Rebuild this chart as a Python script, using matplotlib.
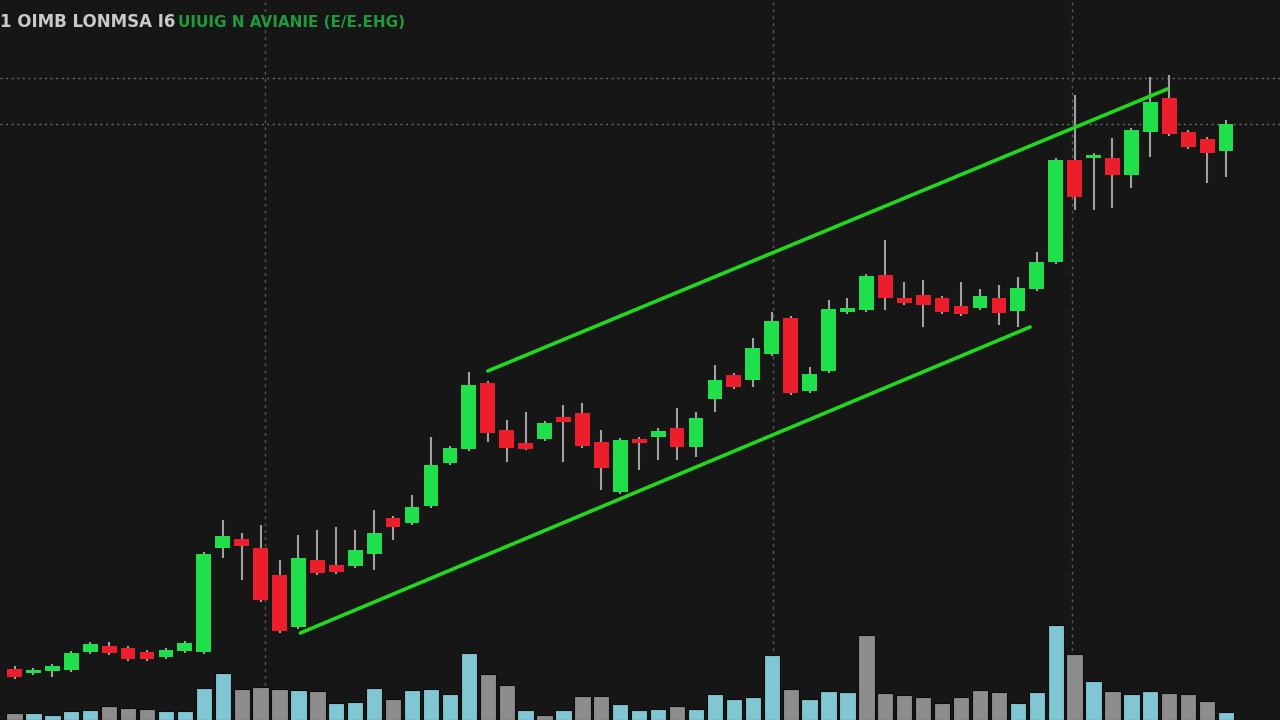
"""
Candlestick chart with rising channel and volume bars (dark theme).
"""

import numpy as np
import matplotlib
matplotlib.use("Agg")
import matplotlib.pyplot as plt

# ---------------------------------------------------------------------------
# Data
# ---------------------------------------------------------------------------
opens = [5.1, 4.7, 4.9, 5.0, 6.8, 7.4, 7.2, 6.8, 6.3, 6.9,
         6.8, 17.2, 18.1, 17.2, 14.5, 9.3, 16.0, 15.5, 15.4, 16.6,
         20.2, 19.7, 21.4, 25.7, 27.1, 33.7, 29.0, 27.7, 28.1, 30.3,
         30.7, 27.8, 22.8, 28.1, 28.3, 29.2, 27.3, 32.1, 34.5, 34.0,
         36.6, 40.2, 32.9, 34.9, 40.8, 41.0, 44.5, 42.2, 42.5, 42.2,
         41.4, 41.2, 42.2, 40.9, 43.1, 45.8, 56.0, 56.2, 56.2, 54.5,
         58.8, 62.2, 58.8, 58.1, 56.9]
highs = [5.4, 5.2, 5.6, 6.9, 7.8, 7.8, 7.4, 7.0, 7.2, 7.9,
         16.8, 20.0, 18.7, 19.5, 16.0, 18.5, 19.0, 19.3, 19.0, 21.0,
         20.4, 22.5, 28.3, 27.4, 34.8, 33.9, 30.0, 30.8, 29.9, 31.5,
         31.7, 29.0, 28.2, 28.3, 29.2, 31.2, 30.8, 35.5, 34.7, 38.2,
         40.8, 40.4, 35.3, 42.0, 42.2, 44.6, 48.0, 43.8, 44.0, 42.4,
         43.8, 43.1, 43.5, 44.3, 46.8, 56.2, 62.5, 56.7, 58.2, 59.2,
         64.3, 64.5, 59.0, 58.3, 60.0]
lows = [4.1, 4.5, 4.3, 4.8, 6.6, 6.5, 5.9, 5.9, 6.1, 6.7,
        6.6, 16.2, 14.0, 11.8, 8.7, 9.1, 14.5, 14.6, 15.2, 15.0,
        18.0, 19.5, 21.2, 25.5, 26.9, 27.8, 25.8, 27.0, 27.9, 25.8,
        27.2, 23.0, 22.6, 25.0, 26.0, 26.0, 26.3, 30.8, 33.1, 33.3,
        36.4, 32.5, 32.7, 34.7, 40.6, 40.8, 41.0, 41.5, 39.3, 40.6,
        40.4, 41.0, 39.5, 39.3, 42.9, 45.6, 51.0, 51.0, 51.2, 53.2,
        56.3, 58.4, 57.1, 53.7, 54.3]
closes = [4.3, 5.0, 5.4, 6.7, 7.6, 6.7, 6.1, 6.1, 7.0, 7.7,
          16.6, 18.4, 17.4, 12.0, 8.9, 16.2, 14.7, 14.8, 17.0, 18.7,
          19.3, 21.3, 25.5, 27.2, 33.5, 28.7, 27.2, 27.1, 29.7, 29.8,
          27.4, 25.2, 28.0, 27.7, 28.9, 27.3, 30.2, 34.0, 33.3, 37.2,
          39.9, 32.7, 34.6, 41.1, 41.2, 44.4, 42.2, 41.7, 41.5, 40.8,
          40.6, 42.4, 40.7, 43.2, 45.8, 56.0, 52.3, 56.5, 54.5, 59.0,
          61.8, 58.6, 57.3, 56.7, 59.6]

volumes = [70, 70, 50, 90, 100, 140, 120, 110, 90, 90,
           320, 470, 310, 330, 310, 300, 290, 170, 180, 320,
           210, 300, 310, 260, 670, 460, 350, 100, 50, 100,
           240, 240, 160, 100, 110, 140, 110, 260, 210, 230,
           650, 310, 210, 290, 280, 850, 270, 250, 230, 170,
           230, 300, 280, 170, 280, 950, 660, 390, 290, 260,
           290, 270, 260, 190, 80]
# 1 = buy-side bar (blue), 0 = sell-side bar (grey)
volume_side = [0, 1, 1, 1, 1, 0, 0, 0, 1, 1,
               1, 1, 0, 0, 0, 1, 0, 1, 1, 1,
               0, 1, 1, 1, 1, 0, 0, 1, 0, 1,
               0, 0, 1, 1, 1, 0, 1, 1, 1, 1,
               1, 0, 1, 1, 1, 0, 0, 0, 0, 0,
               0, 0, 0, 1, 1, 1, 0, 1, 0, 1,
               1, 0, 0, 0, 1]

# channel lines: (start index, start price) -> (end index, end price)
upper_x = [25.0, 60.9]
upper_y = [34.9, 63.1]
lower_x = [15.1, 53.65]
lower_y = [8.7, 39.3]

# reference levels and session markers
h_levels = [64.2, 59.6]
v_markers = [13.25, 40.05, 55.85]

title_left = "1 OIMB LONMSA I6"
title_right = "UIUIG N AVIANIE (E/E.EHG)"

# ---------------------------------------------------------------------------
# Style
# ---------------------------------------------------------------------------
BG = "#161616"
UP = "#1fe04a"
DOWN = "#ec1e2b"
WICK = "#a0a0a0"
VOL_BLUE = "#80c7d3"
VOL_GREY = "#8d8d8d"
CHANNEL = "#22d81e"

# ---------------------------------------------------------------------------
# Figure
# ---------------------------------------------------------------------------
fig = plt.figure(figsize=(12.8, 7.2), dpi=100, facecolor=BG)
ax = fig.add_axes([0, 0, 1, 1], facecolor=BG)
axv = fig.add_axes([0, 0, 1, 1], sharex=ax)
axv.patch.set_alpha(0)

o = np.array(opens)
h = np.array(highs)
l = np.array(lows)
c = np.array(closes)
idx = np.arange(len(o))
up = c >= o

# grid: dotted horizontals, dashed verticals
for lv in h_levels:
    ax.axhline(lv, color="#6a6a6a", lw=1.0, ls=(0, (1.5, 2.5)), zorder=0)
for vm in v_markers:
    ax.axvline(vm, color="#5a5a5a", lw=1.0, ls=(0, (2, 3)), zorder=0)

# volume
vcol = [VOL_BLUE if s else VOL_GREY for s in volume_side]
axv.bar(idx, volumes, width=0.86, color=vcol, edgecolor="#0c0c0c",
        linewidth=0.8, zorder=1)
axv.set_ylim(0, 7200)

# candles
ax.vlines(idx, l, h, color=WICK, lw=1.5, zorder=2)
body_lo = np.minimum(o, c)
body_h = np.maximum(np.abs(c - o), 0.35)
ax.bar(idx, body_h, bottom=body_lo, width=0.78,
       color=np.where(up, UP, DOWN), edgecolor="none", zorder=3)

# channel
ax.plot(upper_x, upper_y, color=CHANNEL, lw=2.6, solid_capstyle="round", zorder=4)
ax.plot(lower_x, lower_y, color=CHANNEL, lw=2.6, solid_capstyle="round", zorder=4)

ax.set_xlim(-0.766, 66.85)
ax.set_ylim(0, 72)
for a in (ax, axv):
    a.axis("off")

# header text
fig.text(0.0, 0.969, title_left, color="#c9c9c9", fontsize=12,
         fontweight="bold", va="center", ha="left", family="DejaVu Sans")
fig.text(0.139, 0.969, title_right, color="#1f9a3a", fontsize=11,
         fontweight="bold", va="center", ha="left", family="DejaVu Sans")

fig.savefig("out.png", dpi=100, facecolor=BG)
plt.close(fig)
